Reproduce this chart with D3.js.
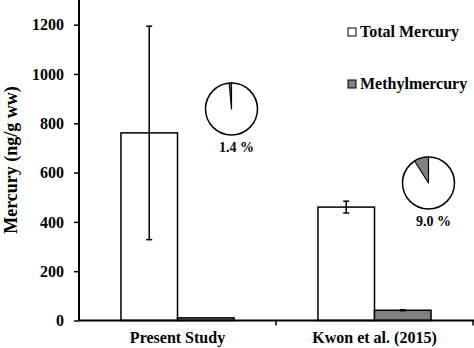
<!DOCTYPE html>
<html>
<head>
<meta charset="utf-8">
<script src="https://cdn.jsdelivr.net/npm/d3@7"></script>
<style>
  body { margin: 0; background: #fff; }
  svg { display: block; font-family: "Liberation Serif", "Times New Roman", serif; font-weight: bold; }
</style>
</head>
<body>
<div id="chart"></div>
<script>
// data
var studies = ["Present Study", "Kwon et al. (2015)"];
var series = ["Total Mercury", "Methylmercury"];
var totalHg = [761, 460];
var totalErr = [433, 24];
var methylHg = [10.7, 41.5];
var methylErr = [0, 2];
var methylPct = [1.4, 9.0];
var pctLabels = ["1.4 %", "9.0 %"];
var yTicks = [0, 200, 400, 600, 800, 1000, 1200];
var colors = ["#ffffff", "#808080"];

var width = 474, height = 348;
var svg = d3.select("#chart").append("svg")
  .attr("width", width)
  .attr("height", height);

var left = 79, right = 473, bottom = 320.5;

var x0 = d3.scaleBand().domain(studies).range([left, right]);
var bw = x0.bandwidth();
var x1 = d3.scaleBand().domain(series).range([bw * 0.213, bw * 0.787]);
var y = d3.scaleLinear().domain([0, 1300]).range([bottom, 0]);

// bars
var groups = svg.selectAll("g.study")
  .data(studies)
  .enter().append("g")
  .attr("class", "study")
  .attr("transform", function(d) { return "translate(" + x0(d) + ",0)"; });

groups.each(function(d, i) {
  var g = d3.select(this);
  var vals = [totalHg[i], methylHg[i]];
  var errs = [totalErr[i], methylErr[i]];
  series.forEach(function(s, j) {
    g.append("rect")
      .attr("x", x1(s))
      .attr("y", y(vals[j]))
      .attr("width", x1.bandwidth())
      .attr("height", bottom - y(vals[j]))
      .attr("fill", colors[j])
      .attr("stroke", "#000")
      .attr("stroke-width", 1.5);
  });
  // error bars
  series.forEach(function(s, j) {
    if (!errs[j]) return;
    var cx = x1(s) + x1.bandwidth() / 2;
    var top = y(vals[j] + errs[j]), bot = y(vals[j] - errs[j]);
    g.append("line").attr("x1", cx).attr("x2", cx).attr("y1", top).attr("y2", bot)
      .attr("stroke", "#000").attr("stroke-width", 1.5);
    [top, bot].forEach(function(yy) {
      g.append("line").attr("x1", cx - 3).attr("x2", cx + 3).attr("y1", yy).attr("y2", yy)
        .attr("stroke", "#000").attr("stroke-width", 1.5);
    });
  });
});

// axes
var yAxis = d3.axisLeft(y).tickValues(yTicks).tickSize(5).tickPadding(10).tickFormat(d3.format("d"));
var gy = svg.append("g").attr("transform", "translate(" + left + ",0)").call(yAxis);
gy.select(".domain").attr("d", "M0,0V" + bottom).attr("stroke-width", 2);
gy.selectAll(".tick line").attr("stroke-width", 1.5);
gy.selectAll("text").attr("font-size", 16).attr("font-family", "Liberation Serif").attr("font-weight", "bold").attr("fill", "#000");

svg.append("line")
  .attr("x1", left).attr("x2", right + 1).attr("y1", bottom).attr("y2", bottom)
  .attr("stroke", "#000").attr("stroke-width", 2);
svg.selectAll("line.xtick")
  .data(studies.slice(1).map(function(d) { return x0(d); }).concat([right]))
  .enter().append("line")
  .attr("class", "xtick")
  .attr("x1", function(d) { return d; }).attr("x2", function(d) { return d; })
  .attr("y1", bottom).attr("y2", bottom + 5)
  .attr("stroke", "#000").attr("stroke-width", 1.5);

svg.selectAll("text.xlab")
  .data(studies)
  .enter().append("text")
  .attr("class", "xlab")
  .attr("x", function(d) { return x0(d) + bw / 2; })
  .attr("y", 343)
  .attr("text-anchor", "middle")
  .attr("font-size", 16)
  .text(function(d) { return d; });

svg.append("text")
  .attr("transform", "translate(17,160) rotate(-90)")
  .attr("text-anchor", "middle")
  .attr("font-size", 18)
  .text("Mercury (ng/g ww)");

// legend
var legend = svg.selectAll("g.leg")
  .data(series)
  .enter().append("g")
  .attr("class", "leg")
  .attr("transform", function(d, i) { return "translate(348," + (28 + i * 52) + ")"; });
legend.append("rect")
  .attr("width", 8).attr("height", 8)
  .attr("fill", function(d, i) { return colors[i]; })
  .attr("stroke", "#000").attr("stroke-width", 1);
legend.append("text")
  .attr("x", 12).attr("y", 8.5)
  .attr("font-size", 16)
  .text(function(d) { return d; });

// pies: methylmercury share of total, drawn anticlockwise from 12 o'clock
var pieR = 26;
var pieY = [109, 183];
var arc = d3.arc().innerRadius(0).outerRadius(pieR);
var pies = svg.selectAll("g.pie")
  .data(studies)
  .enter().append("g")
  .attr("class", "pie")
  .attr("transform", function(d, i) {
    return "translate(" + (x0(d) + bw / 2 + 54) + "," + pieY[i] + ")";
  });
pies.append("circle")
  .attr("r", pieR).attr("fill", "#fff").attr("stroke", "#000").attr("stroke-width", 1.5);
pies.append("path")
  .attr("d", function(d, i) {
    return arc({ startAngle: -2 * Math.PI * methylPct[i] / 100, endAngle: 0 });
  })
  .attr("fill", colors[1])
  .attr("stroke", "#000")
  .attr("stroke-width", 1.2)
  .attr("stroke-linejoin", "round");
pies.append("text")
  .attr("x", 5).attr("y", pieR + 17)
  .attr("text-anchor", "middle")
  .attr("font-size", 14)
  .text(function(d, i) { return pctLabels[i]; });
</script>
</body>
</html>
